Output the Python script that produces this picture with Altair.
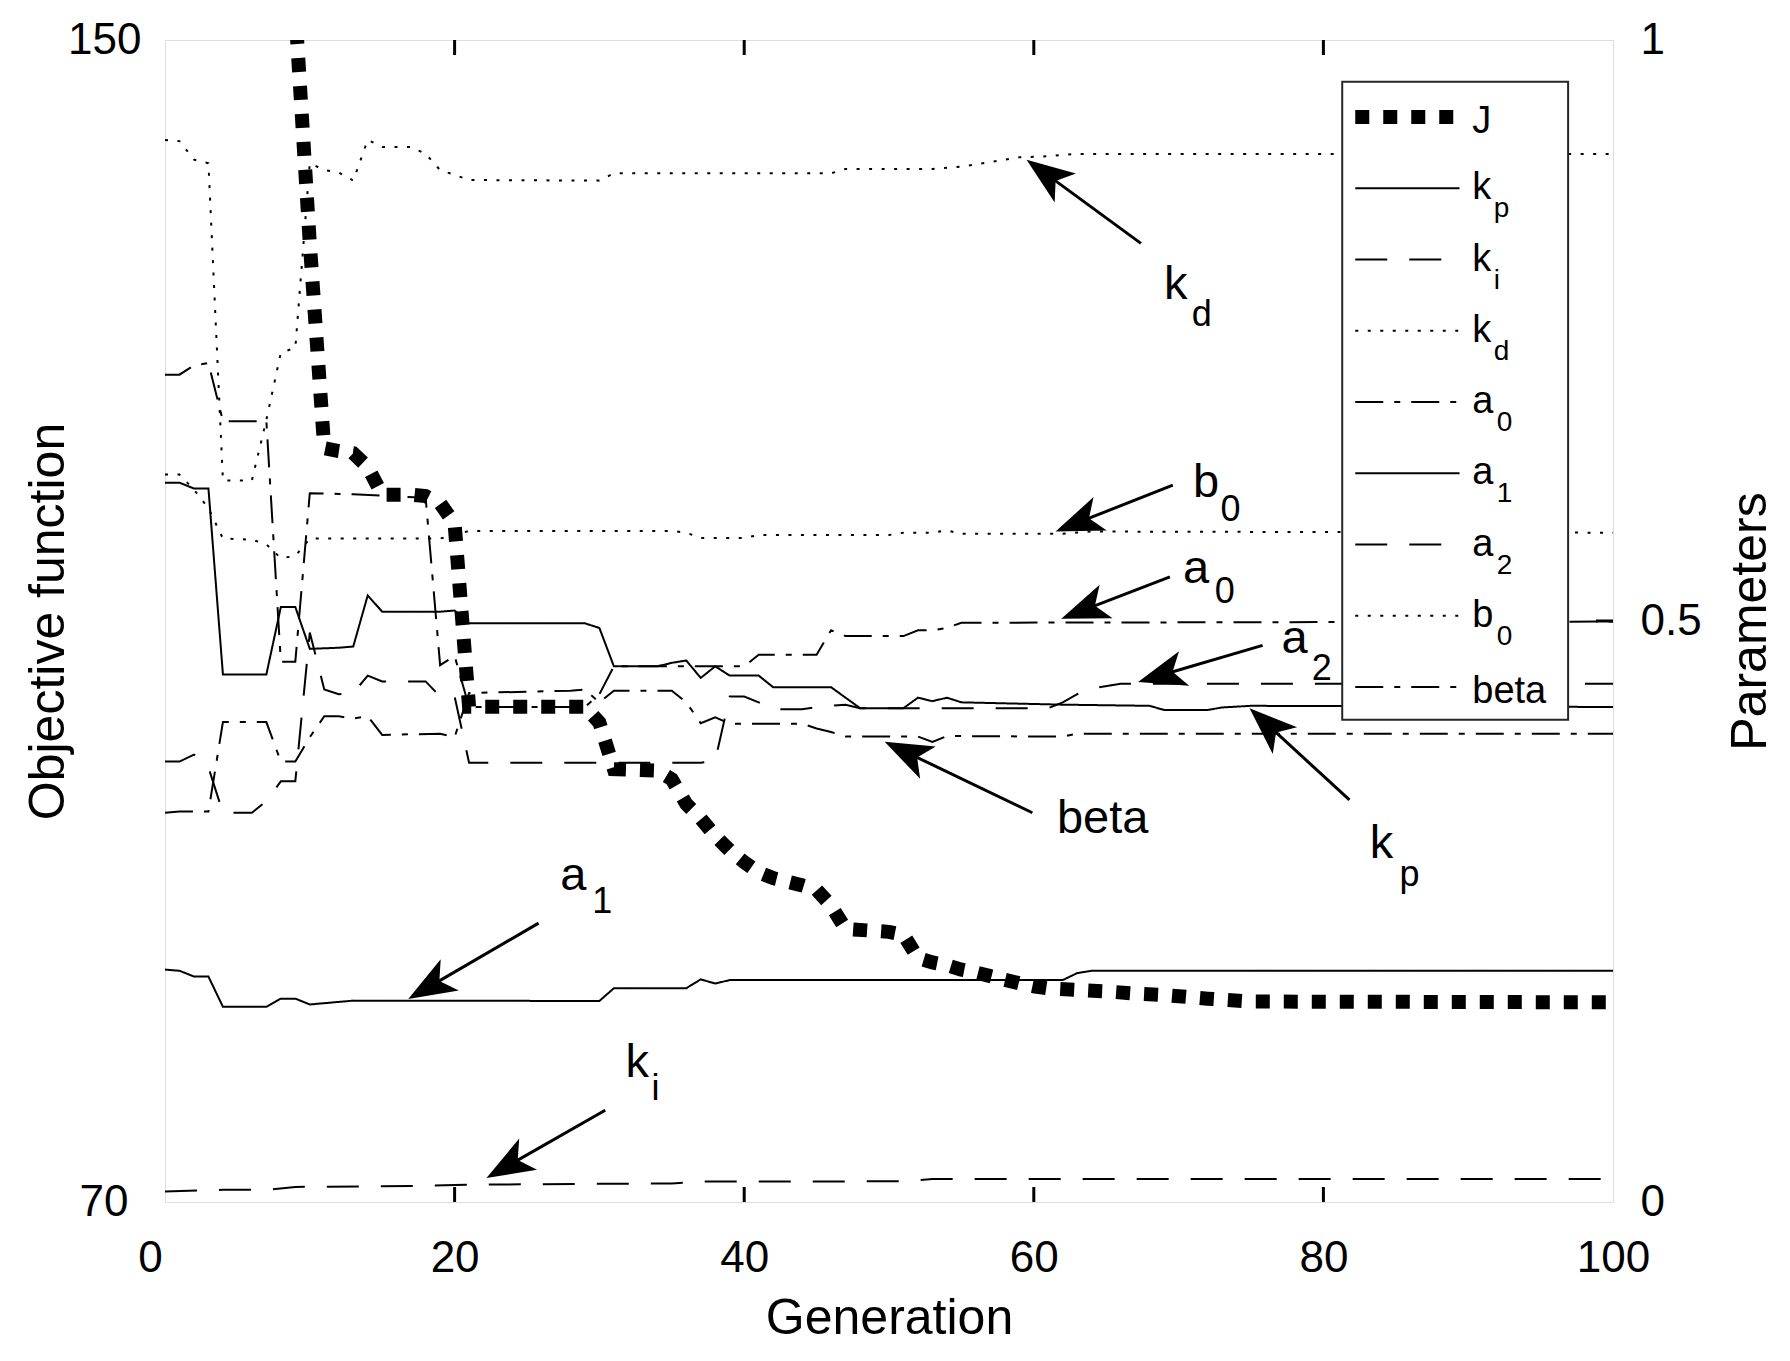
import math
import altair as alt
import pandas as pd

W, H = 1448, 1162
FONT = "Liberation Sans"

# ---------------- data ----------------
# Objective function J (left axis, 70..150); above 150 it is clipped
J_PTS = [(8, 168), (9, 152), (10, 136), (11, 121.9), (12, 121.7), (13, 121.55), (14, 120.6),
         (15, 118.7), (17, 118.7), (18, 118.6), (19, 118.1), (20, 116.7), (21, 104.1), (29, 104.1),
         (30, 103.0), (31, 99.8), (34, 99.7), (35, 99.1), (36, 97.4), (37, 96.4), (38, 95.2),
         (39, 94.2), (40, 93.4), (41, 92.7), (42, 92.3), (43, 92.05), (44, 91.8), (45, 91.5),
         (46, 90.4), (47, 88.8), (50, 88.6), (51, 88.4), (52, 86.8), (53, 86.5), (54, 86.3),
         (55, 86.0), (56, 85.8), (57, 85.55), (58, 85.3), (59, 85.06), (60, 84.85), (61, 84.7),
         (63, 84.6), (65, 84.5), (67, 84.35), (69, 84.25), (72, 84.0), (75, 83.8), (100, 83.75)]

# Parameters (right axis, 0..1)
KP_PTS = [(0, 0.619), (1, 0.619), (2, 0.614), (3, 0.614), (4, 0.454), (7, 0.454), (8, 0.512),
          (9, 0.512), (10, 0.476), (12, 0.477), (13, 0.478), (14, 0.522), (15, 0.508), (19, 0.508),
          (20, 0.509), (21, 0.498), (29, 0.498), (30, 0.494), (31, 0.461), (34, 0.461), (35, 0.464),
          (36, 0.466), (37, 0.451), (38, 0.461), (39, 0.453), (41, 0.453), (42, 0.443), (46, 0.443),
          (47, 0.434), (48, 0.425), (51, 0.425), (52, 0.434), (53, 0.431), (54, 0.434), (55, 0.430),
          (62, 0.428), (68, 0.427), (69, 0.4234), (72, 0.4234), (73, 0.4256), (75, 0.427), (100, 0.426)]
KI_PTS = [(0, 0.009), (4, 0.0105), (7, 0.0105), (9, 0.013), (17, 0.0138), (20, 0.0146), (22, 0.015),
          (35, 0.016), (37, 0.0176), (51, 0.0178), (53, 0.0198), (100, 0.0198)]
KD_PTS = [(0, 0.914), (1, 0.913), (2, 0.897), (3, 0.894), (4, 0.621), (6, 0.621), (7, 0.673),
          (8, 0.731), (9, 0.735), (10, 0.894), (11, 0.888), (12, 0.886), (13, 0.879), (14, 0.914),
          (15, 0.908), (17, 0.908), (18, 0.902), (19, 0.888), (20, 0.884), (21, 0.8795), (30, 0.879),
          (31, 0.8853), (46, 0.8853), (47, 0.889), (53, 0.889), (55, 0.891), (57, 0.895), (59, 0.899),
          (61, 0.900), (63, 0.902), (100, 0.902)]
A0_PTS = [(0, 0.712), (1, 0.712), (2, 0.720), (3, 0.722), (4, 0.672), (7, 0.672), (8, 0.465),
          (9, 0.465), (10, 0.610), (13, 0.609), (18, 0.606), (19, 0.462), (20, 0.470), (21, 0.426),
          (29, 0.426), (30, 0.437), (31, 0.461), (40, 0.461), (41, 0.471), (45, 0.471), (46, 0.492),
          (47, 0.487), (51, 0.487), (52, 0.492), (53, 0.492), (54, 0.494), (55, 0.4985), (100, 0.4995)]
A1_PTS = [(0, 0.200), (1, 0.199), (2, 0.194), (3, 0.194), (4, 0.168), (7, 0.168), (8, 0.175),
          (9, 0.175), (10, 0.170), (13, 0.1733), (30, 0.173), (31, 0.184), (36, 0.184), (37, 0.1916),
          (38, 0.188), (39, 0.191), (62, 0.191), (63, 0.197), (64, 0.199), (100, 0.199)]
A2_PTS = [(0, 0.379), (1, 0.379), (2, 0.385), (3, 0.374), (4, 0.335), (6, 0.335), (7, 0.345),
          (8, 0.362), (9, 0.362), (10, 0.490), (11, 0.441), (12, 0.437), (13, 0.438), (14, 0.453),
          (15, 0.448), (18, 0.448), (19, 0.435), (20, 0.435), (21, 0.378), (37, 0.378), (38, 0.380),
          (39, 0.435), (40, 0.435), (41, 0.430), (42, 0.424), (44, 0.424), (45, 0.426), (47, 0.428),
          (48, 0.425), (61, 0.425), (62, 0.430), (63, 0.437), (64, 0.442), (66, 0.446), (100, 0.446)]
B0_PTS = [(0, 0.626), (1, 0.626), (2, 0.613), (3, 0.597), (4, 0.571), (6, 0.570), (7, 0.566),
          (8, 0.554), (9, 0.556), (10, 0.571), (19, 0.571), (20, 0.574), (21, 0.5775), (35, 0.5775),
          (36, 0.576), (37, 0.5715), (40, 0.5715), (41, 0.574), (50, 0.574), (51, 0.576), (53, 0.576),
          (54, 0.578), (55, 0.575), (62, 0.575), (64, 0.577), (100, 0.576)]
BETA_PTS = [(0, 0.335), (1, 0.336), (3, 0.336), (4, 0.413), (7, 0.413), (8, 0.379), (9, 0.379),
            (10, 0.400), (11, 0.418), (12, 0.418), (13, 0.416), (14, 0.418), (15, 0.402), (19, 0.403),
            (20, 0.400), (21, 0.438), (28, 0.440), (29, 0.441), (30, 0.430), (31, 0.440), (35, 0.440),
            (36, 0.430), (37, 0.412), (38, 0.417), (39, 0.4116), (44, 0.4116), (45, 0.4075),
            (46, 0.4045), (47, 0.4006), (52, 0.4006), (53, 0.396), (54, 0.401), (62, 0.4005),
            (63, 0.403), (100, 0.403)]

PARAM_SERIES = {"kp": KP_PTS, "ki": KI_PTS, "kd": KD_PTS, "a0": A0_PTS,
                "a1": A1_PTS, "a2": A2_PTS, "b0": B0_PTS, "beta": BETA_PTS}

# legend entries
LEG_KEYS = ["J", "kp", "ki", "kd", "a0", "a1", "a2", "b0", "beta"]
LEG_MAIN = ["J", "k", "k", "k", "a", "a", "a", "b", "beta"]
LEG_SUB = ["", "p", "i", "d", "0", "1", "2", "0", ""]

# annotations: label, subscript, text anchor, subscript anchor, arrow tail, arrow tip (data units)
ANN_MAIN = ["k", "b", "a", "a", "beta", "k", "a", "k"]
ANN_SUB = ["d", "0", "0", "2", "", "p", "1", "i"]
ANN_TXT = [(69.0, 0.777), (71.0, 0.607), (70.3, 0.533), (77.1, 0.4725), (61.6, 0.3176),
           (83.2, 0.2957), (27.3, 0.2685), (31.8, 0.1076)]
ANN_SUBPOS = [(70.9, 0.754), (72.9, 0.586), (72.5, 0.5155), (79.2, 0.449), None,
              (85.25, 0.272), (29.5, 0.2487), (33.6, 0.0878)]
ANN_TAIL = [(67.4, 0.825), (69.6, 0.617), (69.4, 0.538), (75.8, 0.479), (59.9, 0.335),
            (81.8, 0.346), (25.8, 0.240), (30.4, 0.079)]
ANN_TIP = [(59.5, 0.897), (61.5, 0.577), (61.9, 0.502), (67.2, 0.4475), (49.7, 0.396),
           (74.9, 0.425), (16.8, 0.1747), (22.2, 0.0207)]

# ---------------- styles ----------------
DASH_OF = {"J": [14, 14], "kp": [1, 0], "ki": [32, 22], "kd": [3, 9.5], "a0": [28, 11, 6, 11],
           "a1": [1, 0], "a2": [32, 22], "b0": [3, 9.5], "beta": [28, 11, 6, 11]}
DASH_SCALE = alt.Scale(domain=LEG_KEYS, range=[DASH_OF[k] for k in LEG_KEYS])

X_AXIS = alt.Axis(title="Generation", values=[0, 20, 40, 60, 80, 100], format="d",
                  ticks=False, tickSize=0, domain=False, grid=False, labelFlush=False,
                  labelOffset={"condition": {"test": "datum.value === 0", "value": -15}, "value": 0},
                  labelPadding=34, labelFontSize=44, labelFont=FONT, labelColor="black",
                  titleFont=FONT, titleFontSize=50, titleFontWeight="normal", titleColor="black",
                  titleX=W / 2, titleY=116, titleAlign="center", titleBaseline="middle")
LEFT_AXIS = alt.Axis(title="Objective function", orient="left", values=[70, 150], format="d",
                     ticks=False, tickSize=0, domain=False, grid=False,
                     labelPadding={"condition": {"test": "datum.value === 70", "value": 37},
                                   "value": 24},
                     labelFontSize=44, labelFont=FONT, labelColor="black",
                     titleFont=FONT, titleFontSize=50, titleFontWeight="normal", titleColor="black",
                     titleX=-117, titleY=H / 2, titleAngle=270, titleAlign="center",
                     titleBaseline="middle")
RIGHT_AXIS = alt.Axis(title="Parameters", orient="right", values=[0, 0.5, 1], format=".1~f",
                      ticks=False, tickSize=0, domain=False, grid=False, labelPadding=27,
                      labelFontSize=44, labelFont=FONT, labelColor="black",
                      titleFont=FONT, titleFontSize=50, titleFontWeight="normal", titleColor="black",
                      titleX=137, titleY=H / 2, titleAngle=270, titleAlign="center",
                      titleBaseline="middle")
XS = alt.Scale(domain=[0, 100], nice=False, zero=False)
JS = alt.Scale(domain=[70, 150], nice=False, zero=False)
PS = alt.Scale(domain=[0, 1], nice=False, zero=False)


def xq(f="g"):
    return alt.X(f"{f}:Q", scale=XS, axis=X_AXIS)


def yp(f="p"):
    return alt.Y(f"{f}:Q", scale=PS, axis=RIGHT_AXIS)


# ---------------- tables ----------------
j_df = pd.DataFrame(J_PTS, columns=["g", "v"])
rows = []
for name, pts in PARAM_SERIES.items():
    for g, p in pts:
        rows.append({"s": name, "g": g, "p": p})
p_df = pd.DataFrame(rows)

# legend geometry (data units)
LEG_BOX = {"g": 81.3, "g2": 96.9, "p": 0.415, "p2": 0.964}
row_p = [0.9337 - i * (0.9337 - 0.4432) / 8 for i in range(9)]
leg_sym = pd.DataFrame({"s": LEG_KEYS, "g": 82.2, "g2": 89.4, "p": row_p,
                        "w": [14 if k == "J" else 2 for k in LEG_KEYS]})
leg_main = pd.DataFrame({"t": LEG_MAIN, "g": 90.28,
                         "p": [rp - (16 if sb == "" else 11) / H for rp, sb in zip(row_p, LEG_SUB)]})
leg_sub = pd.DataFrame({"t": [s for s in LEG_SUB if s],
                        "g": [91.76 if m == "k" else 91.97 for m, s in zip(LEG_MAIN, LEG_SUB) if s],
                        "p": [rp - 29 / H for rp, s in zip(row_p, LEG_SUB) if s]})

ann_main = pd.DataFrame({"t": ANN_MAIN, "g": [a[0] for a in ANN_TXT], "p": [a[1] for a in ANN_TXT]})
ann_sub = pd.DataFrame({"t": [s for s in ANN_SUB if s],
                        "g": [q[0] for q in ANN_SUBPOS if q], "p": [q[1] for q in ANN_SUBPOS if q]})

shaft_rows, head_rows = [], []
for (tg, tp), (hg, hp) in zip(ANN_TAIL, ANN_TIP):
    dx = (hg - tg) * W / 100.0
    dy = -(hp - tp) * H
    L = math.hypot(dx, dy)
    f = 30.0 / L
    shaft_rows.append({"g": tg, "p": tp, "g2": hg + (tg - hg) * f, "p2": hp + (tp - hp) * f})
    ang = math.degrees(math.atan2(dx, -dy)) % 360
    head_rows.append({"g": hg, "p": hp, "ang": ang})
shaft_df = pd.DataFrame(shaft_rows)
head_df = pd.DataFrame(head_rows)

tick_rows = []
for g in [20, 40, 60, 80]:
    tick_rows.append({"g": g, "g2": g, "p": 0, "p2": 15 / H})
    tick_rows.append({"g": g, "g2": g, "p": 1 - 15 / H, "p2": 1})
tick_rows.append({"g": 100 - 17 * 100 / W, "g2": 100, "p": 0.5, "p2": 0.5})
tick_df = pd.DataFrame(tick_rows)

# ---------------- layers ----------------
j_line = alt.Chart(j_df).mark_line(color="black", strokeWidth=14, strokeDash=[14, 14],
                                   strokeCap="butt", clip=True).encode(
    x=xq(), y=alt.Y("v:Q", scale=JS, axis=LEFT_AXIS))

p_lines = alt.Chart(p_df).mark_line(color="black", strokeWidth=2, strokeCap="butt").encode(
    x=xq(), y=yp(),
    strokeDash=alt.StrokeDash("s:N", scale=DASH_SCALE, legend=None),
    detail="s:N")

box = alt.Chart(pd.DataFrame([LEG_BOX])).mark_rect(fill="white", stroke="#262626",
                                                   strokeWidth=2).encode(
    x=xq(), x2="g2:Q", y=yp(), y2="p2:Q")

sym = alt.Chart(leg_sym).mark_rule(color="black", strokeCap="butt").encode(
    x=xq(), x2="g2:Q", y=yp(),
    strokeDash=alt.StrokeDash("s:N", scale=DASH_SCALE, legend=None),
    strokeWidth=alt.StrokeWidth("w:Q", scale=None))


def texts(df, size):
    return alt.Chart(df).mark_text(font=FONT, fontSize=size, color="black", align="left",
                                   baseline="alphabetic").encode(x=xq(), y=yp(), text="t:N")


shafts = alt.Chart(shaft_df).mark_rule(color="black", strokeWidth=3).encode(
    x=xq(), x2="g2:Q", y=yp(), y2="p2:Q")
heads = alt.Chart(head_df).mark_point(shape="M0,0L0.375,1L0,0.75L-0.375,1Z", filled=True,
                                      fill="black", strokeWidth=0, opacity=1, size=9216).encode(
    x=xq(), y=yp(), angle=alt.Angle("ang:Q", scale=None))

ticks = alt.Chart(tick_df).mark_rule(color="black", strokeWidth=3).encode(
    x=xq(), x2="g2:Q", y=yp(), y2="p2:Q")

params = alt.layer(p_lines, shafts, heads, texts(ann_main, 47), texts(ann_sub, 36),
                   box, sym, texts(leg_main, 38), texts(leg_sub, 28), ticks)

chart = alt.layer(j_line, params).resolve_scale(y="independent").properties(
    width=W, height=H,
    padding={"left": 157, "top": 32, "right": 169, "bottom": 150},
    autosize=alt.AutoSizeParams(type="none"),
).configure_view(stroke="black", strokeWidth=3).configure(background="white")

chart.save("out.html", embed_options={"renderer": "svg", "actions": False})
